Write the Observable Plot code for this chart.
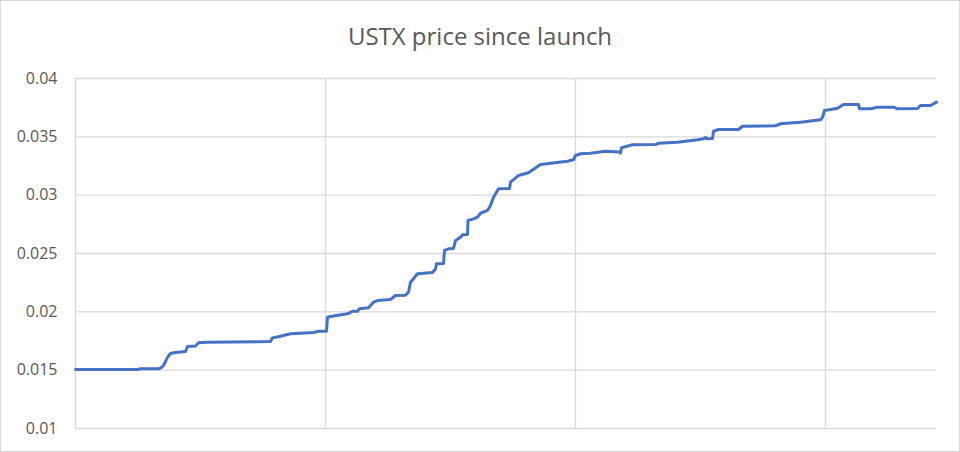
<!DOCTYPE html>
<html>
<head>
<meta charset="utf-8">
<script src="https://cdn.jsdelivr.net/npm/d3@7"></script>
<script src="https://cdn.jsdelivr.net/npm/@observablehq/plot@0.6"></script>
<style>
  html, body { margin: 0; padding: 0; background: #fff; }
  #wrap { position: relative; width: 960px; height: 452px; overflow: hidden; }
  #title { position: absolute; left: 0; top: 20px; width: 960px; text-align: center;
           font-family: "Open Sans", sans-serif; font-size: 24px; line-height: 1.362; color: #595959; }
  #frame { position: absolute; left: 0; top: 0; width: 960px; height: 452px; box-sizing: border-box;
           border: 1px solid #d9d9d9; pointer-events: none; }
  svg { position: absolute; left: 0; top: 0; }
</style>
</head>
<body>
<div id="wrap">
  <div id="chart"></div>
  <div id="title">USTX price since launch</div>
  <div id="frame"></div>
</div>
<script>
// Days since launch (approx.) and USTX price
const days = [
  0, 25.2, 25.6, 33.2, 34.4, 35.2, 36.8, 38, 40, 44, 44.8, 48, 49.2, 52.8, 78, 78.8, 82, 86, 95.2, 97.2,
  100.4, 100.8, 102, 108.8, 110.8, 112.8, 113.6, 117.2, 119.2, 120.8, 126, 128, 132, 133.2, 134, 136.8,
  142.8, 144, 144.4, 147.2, 147.6, 149.2, 151.2, 152, 154, 154.8, 156.8, 157, 159.2, 160.8, 162, 164.8,
  166, 167.2, 169.2, 173.6, 174, 175.6, 177.2, 181.2, 184.8, 186, 196.8, 199.2, 200, 202, 206, 212,
  217.6, 218, 218.4, 222.8, 232, 233.2, 240.8, 248.8, 251.2, 252, 252.8, 254.8, 255.2, 257.2, 265.2,
  266.8, 280, 282, 290, 298, 298.8, 299.6, 302, 304.8, 307.2, 313.2, 313.6, 318, 320.8, 327.2, 328.8,
  336.8, 338, 342, 344.4
];
const price = [
  0.01506, 0.01506, 0.01512, 0.01512, 0.01523, 0.0154, 0.01609, 0.01643, 0.01651, 0.0166, 0.01703, 0.01707,
  0.01735, 0.0174, 0.01746, 0.01777, 0.01791, 0.01812, 0.01823, 0.01834,
  0.01834, 0.01954, 0.0196, 0.01983, 0.02005, 0.02005, 0.02026, 0.02035, 0.02083, 0.02097, 0.02106, 0.0214,
  0.02143, 0.02168, 0.02254, 0.02326,
  0.02337, 0.02369, 0.02412, 0.02414, 0.02526, 0.0254, 0.02543, 0.02611, 0.0264, 0.0266, 0.02663, 0.02783,
  0.02797, 0.02811, 0.02845, 0.02869,
  0.02911, 0.02983, 0.03055, 0.03057, 0.03111, 0.0314, 0.03169, 0.03192, 0.03246, 0.03263, 0.03291, 0.03303,
  0.0334, 0.03355, 0.0336, 0.03377,
  0.0337, 0.03361, 0.03406, 0.03432, 0.03434, 0.03445, 0.03454, 0.03475, 0.03483, 0.03494, 0.03483, 0.03486,
  0.03548, 0.03563, 0.03563,
  0.03591, 0.03595, 0.03612, 0.03625, 0.03646, 0.03668, 0.03726, 0.03734, 0.03745, 0.03777, 0.03777, 0.0374,
  0.0374, 0.03754, 0.03754, 0.0374,
  0.03743, 0.03769, 0.03769, 0.03797
];
const xGridTicks = [0, 100, 200, 300];
const yTicks = [0.01, 0.015, 0.02, 0.025, 0.03, 0.035, 0.04];

const data = days.map((d, i) => ({day: d, price: price[i]}));

const chart = Plot.plot({
  width: 960,
  height: 452,
  marginTop: 78,
  marginRight: 24,
  marginBottom: 24,
  marginLeft: 75,
  style: {fontFamily: "'Open Sans', sans-serif", fontSize: "16px", color: "#595959", background: "transparent"},
  x: {domain: [0, 344.4], axis: null},
  y: {domain: [0.01, 0.04], axis: null},
  marks: [
    Plot.gridY(yTicks, {stroke: "#d9d9d9", strokeOpacity: 1, strokeWidth: 1.3}),
    Plot.gridX(xGridTicks, {stroke: "#d9d9d9", strokeOpacity: 1, strokeWidth: 1.3}),
    Plot.axisY(yTicks, {label: null, tickSize: 0, tickPadding: 18, tickFormat: d => String(+d.toFixed(3)), fill: "#595959", fontSize: 16}),
    Plot.line(data, {x: "day", y: "price", stroke: "#4472c4", strokeWidth: 3, strokeLinejoin: "round", strokeLinecap: "round"})
  ]
});
document.getElementById("chart").appendChild(chart);
</script>
</body>
</html>
